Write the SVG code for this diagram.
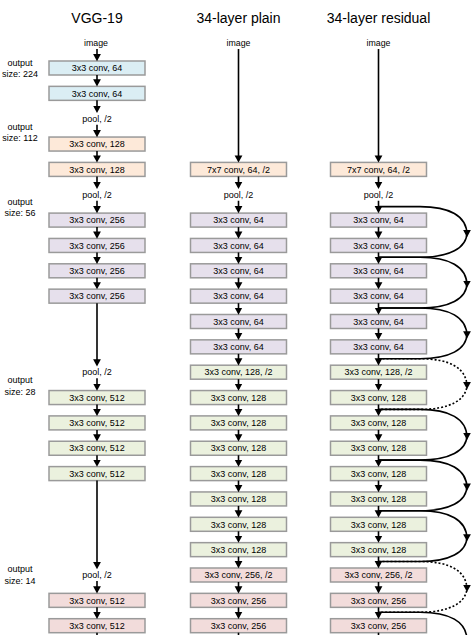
<svg xmlns="http://www.w3.org/2000/svg" width="476" height="635" viewBox="0 0 476 635">
<style>
.bx{stroke:#9a9a9a;stroke-width:1.5}
.bl{fill:#dbeef4}.or{fill:#fde9d9}.lv{fill:#e6e0ec}.gr{fill:#ebf1de}.pk{fill:#f2dcdb}
text{font-family:"Liberation Sans",Arial,sans-serif;fill:#000}
.t{font-size:9px;text-anchor:middle}
.im{font-size:8.8px;text-anchor:middle}
.ti{font-size:14px;text-anchor:middle}
.c{stroke:#000;stroke-width:1.6;fill:none}
.d{stroke-dasharray:2 2}
</style>
<defs>
<marker id="ah" markerUnits="userSpaceOnUse" markerWidth="9" markerHeight="9" viewBox="0 0 9 9" refX="5" refY="4.5" orient="auto"><path d="M0,0.6 L7.2,4.5 L0,8.4 z" fill="#000"/></marker>
</defs>
<g id="titles">
<text class="ti" x="97" y="23">VGG-19</text>
<text class="ti" x="238.5" y="23">34-layer plain</text>
<text class="ti" x="378.5" y="23">34-layer residual</text>
</g>
<g id="output-sizes">
<text class="t" x="20" y="65.5">output</text><text class="t" x="20" y="77">size: 224</text>
<text class="t" x="20" y="129.7">output</text><text class="t" x="20" y="141">size: 112</text>
<text class="t" x="20" y="204.7">output</text><text class="t" x="20" y="215.5">size: 56</text>
<text class="t" x="20" y="383">output</text><text class="t" x="20" y="395">size: 28</text>
<text class="t" x="20" y="572">output</text><text class="t" x="20" y="583.5">size: 14</text>
</g>
<!-- VGG column -->
<g id="vgg-image"><text class="im" x="96" y="45.5">image</text></g>
<g id="vgg-r0"><rect class="bx bl" x="49" y="61" width="96" height="14"/><text class="t" x="97" y="71.2">3x3 conv, 64</text></g>
<g id="vgg-r1"><rect class="bx bl" x="49" y="86.35" width="96" height="14"/><text class="t" x="97" y="96.55">3x3 conv, 64</text></g>
<g id="vgg-pool1"><text class="t" x="97" y="121.9">pool, /2</text></g>
<g id="vgg-r3"><rect class="bx or" x="49" y="137.05" width="96" height="14"/><text class="t" x="97" y="147.25">3x3 conv, 128</text></g>
<g id="vgg-r4"><rect class="bx or" x="49" y="162.4" width="96" height="14"/><text class="t" x="97" y="172.6">3x3 conv, 128</text></g>
<g id="vgg-pool2"><text class="t" x="97" y="197.95">pool, /2</text></g>
<g id="vgg-r6"><rect class="bx lv" x="49" y="213.1" width="96" height="14"/><text class="t" x="97" y="223.3">3x3 conv, 256</text></g>
<g id="vgg-r7"><rect class="bx lv" x="49" y="238.45" width="96" height="14"/><text class="t" x="97" y="248.65">3x3 conv, 256</text></g>
<g id="vgg-r8"><rect class="bx lv" x="49" y="263.8" width="96" height="14"/><text class="t" x="97" y="274">3x3 conv, 256</text></g>
<g id="vgg-r9"><rect class="bx lv" x="49" y="289.15" width="96" height="14"/><text class="t" x="97" y="299.35">3x3 conv, 256</text></g>
<g id="vgg-pool3"><text class="t" x="97" y="375.4">pool, /2</text></g>
<g id="vgg-r13"><rect class="bx gr" x="49" y="390.55" width="96" height="14"/><text class="t" x="97" y="400.75">3x3 conv, 512</text></g>
<g id="vgg-r14"><rect class="bx gr" x="49" y="415.9" width="96" height="14"/><text class="t" x="97" y="426.1">3x3 conv, 512</text></g>
<g id="vgg-r15"><rect class="bx gr" x="49" y="441.25" width="96" height="14"/><text class="t" x="97" y="451.45">3x3 conv, 512</text></g>
<g id="vgg-r16"><rect class="bx gr" x="49" y="466.6" width="96" height="14"/><text class="t" x="97" y="476.8">3x3 conv, 512</text></g>
<g id="vgg-pool4"><text class="t" x="97" y="578.2">pool, /2</text></g>
<g id="vgg-r21"><rect class="bx pk" x="49" y="593.35" width="96" height="14"/><text class="t" x="97" y="603.55">3x3 conv, 512</text></g>
<g id="vgg-r22"><rect class="bx pk" x="49" y="618.7" width="96" height="14"/><text class="t" x="97" y="628.9">3x3 conv, 512</text></g>
<!-- Plain column -->
<g id="plain-image"><text class="im" x="238.5" y="45.5">image</text></g>
<g id="plain-r4"><rect class="bx or" x="190.5" y="162.4" width="96" height="14"/><text class="t" x="238.5" y="172.6">7x7 conv, 64, /2</text></g>
<g id="plain-pool"><text class="t" x="238.5" y="197.95">pool, /2</text></g>
<g id="plain-r6"><rect class="bx lv" x="190.5" y="213.1" width="96" height="14"/><text class="t" x="238.5" y="223.3">3x3 conv, 64</text></g>
<g id="plain-r7"><rect class="bx lv" x="190.5" y="238.45" width="96" height="14"/><text class="t" x="238.5" y="248.65">3x3 conv, 64</text></g>
<g id="plain-r8"><rect class="bx lv" x="190.5" y="263.8" width="96" height="14"/><text class="t" x="238.5" y="274">3x3 conv, 64</text></g>
<g id="plain-r9"><rect class="bx lv" x="190.5" y="289.15" width="96" height="14"/><text class="t" x="238.5" y="299.35">3x3 conv, 64</text></g>
<g id="plain-r10"><rect class="bx lv" x="190.5" y="314.5" width="96" height="14"/><text class="t" x="238.5" y="324.7">3x3 conv, 64</text></g>
<g id="plain-r11"><rect class="bx lv" x="190.5" y="339.85" width="96" height="14"/><text class="t" x="238.5" y="350.05">3x3 conv, 64</text></g>
<g id="plain-r12"><rect class="bx gr" x="190.5" y="365.2" width="96" height="14"/><text class="t" x="238.5" y="375.4">3x3 conv, 128, /2</text></g>
<g id="plain-r13"><rect class="bx gr" x="190.5" y="390.55" width="96" height="14"/><text class="t" x="238.5" y="400.75">3x3 conv, 128</text></g>
<g id="plain-r14"><rect class="bx gr" x="190.5" y="415.9" width="96" height="14"/><text class="t" x="238.5" y="426.1">3x3 conv, 128</text></g>
<g id="plain-r15"><rect class="bx gr" x="190.5" y="441.25" width="96" height="14"/><text class="t" x="238.5" y="451.45">3x3 conv, 128</text></g>
<g id="plain-r16"><rect class="bx gr" x="190.5" y="466.6" width="96" height="14"/><text class="t" x="238.5" y="476.8">3x3 conv, 128</text></g>
<g id="plain-r17"><rect class="bx gr" x="190.5" y="491.95" width="96" height="14"/><text class="t" x="238.5" y="502.15">3x3 conv, 128</text></g>
<g id="plain-r18"><rect class="bx gr" x="190.5" y="517.3" width="96" height="14"/><text class="t" x="238.5" y="527.5">3x3 conv, 128</text></g>
<g id="plain-r19"><rect class="bx gr" x="190.5" y="542.65" width="96" height="14"/><text class="t" x="238.5" y="552.85">3x3 conv, 128</text></g>
<g id="plain-r20"><rect class="bx pk" x="190.5" y="568" width="96" height="14"/><text class="t" x="238.5" y="578.2">3x3 conv, 256, /2</text></g>
<g id="plain-r21"><rect class="bx pk" x="190.5" y="593.35" width="96" height="14"/><text class="t" x="238.5" y="603.55">3x3 conv, 256</text></g>
<g id="plain-r22"><rect class="bx pk" x="190.5" y="618.7" width="96" height="14"/><text class="t" x="238.5" y="628.9">3x3 conv, 256</text></g>
<!-- Residual column -->
<g id="res-image"><text class="im" x="378.5" y="45.5">image</text></g>
<g id="res-r4"><rect class="bx or" x="330.5" y="162.4" width="96" height="14"/><text class="t" x="378.5" y="172.6">7x7 conv, 64, /2</text></g>
<g id="res-pool"><text class="t" x="378.5" y="197.95">pool, /2</text></g>
<g id="res-r6"><rect class="bx lv" x="330.5" y="213.1" width="96" height="14"/><text class="t" x="378.5" y="223.3">3x3 conv, 64</text></g>
<g id="res-r7"><rect class="bx lv" x="330.5" y="238.45" width="96" height="14"/><text class="t" x="378.5" y="248.65">3x3 conv, 64</text></g>
<g id="res-r8"><rect class="bx lv" x="330.5" y="263.8" width="96" height="14"/><text class="t" x="378.5" y="274">3x3 conv, 64</text></g>
<g id="res-r9"><rect class="bx lv" x="330.5" y="289.15" width="96" height="14"/><text class="t" x="378.5" y="299.35">3x3 conv, 64</text></g>
<g id="res-r10"><rect class="bx lv" x="330.5" y="314.5" width="96" height="14"/><text class="t" x="378.5" y="324.7">3x3 conv, 64</text></g>
<g id="res-r11"><rect class="bx lv" x="330.5" y="339.85" width="96" height="14"/><text class="t" x="378.5" y="350.05">3x3 conv, 64</text></g>
<g id="res-r12"><rect class="bx gr" x="330.5" y="365.2" width="96" height="14"/><text class="t" x="378.5" y="375.4">3x3 conv, 128, /2</text></g>
<g id="res-r13"><rect class="bx gr" x="330.5" y="390.55" width="96" height="14"/><text class="t" x="378.5" y="400.75">3x3 conv, 128</text></g>
<g id="res-r14"><rect class="bx gr" x="330.5" y="415.9" width="96" height="14"/><text class="t" x="378.5" y="426.1">3x3 conv, 128</text></g>
<g id="res-r15"><rect class="bx gr" x="330.5" y="441.25" width="96" height="14"/><text class="t" x="378.5" y="451.45">3x3 conv, 128</text></g>
<g id="res-r16"><rect class="bx gr" x="330.5" y="466.6" width="96" height="14"/><text class="t" x="378.5" y="476.8">3x3 conv, 128</text></g>
<g id="res-r17"><rect class="bx gr" x="330.5" y="491.95" width="96" height="14"/><text class="t" x="378.5" y="502.15">3x3 conv, 128</text></g>
<g id="res-r18"><rect class="bx gr" x="330.5" y="517.3" width="96" height="14"/><text class="t" x="378.5" y="527.5">3x3 conv, 128</text></g>
<g id="res-r19"><rect class="bx gr" x="330.5" y="542.65" width="96" height="14"/><text class="t" x="378.5" y="552.85">3x3 conv, 128</text></g>
<g id="res-r20"><rect class="bx pk" x="330.5" y="568" width="96" height="14"/><text class="t" x="378.5" y="578.2">3x3 conv, 256, /2</text></g>
<g id="res-r21"><rect class="bx pk" x="330.5" y="593.35" width="96" height="14"/><text class="t" x="378.5" y="603.55">3x3 conv, 256</text></g>
<g id="res-r22"><rect class="bx pk" x="330.5" y="618.7" width="96" height="14"/><text class="t" x="378.5" y="628.9">3x3 conv, 256</text></g>
<!-- Connectors -->
<g id="connectors" class="c">
<g id="vgg-arrows" marker-end="url(#ah)">
<path d="M97,49V59"/><path d="M97,75V84.35"/><path d="M97,100.35V110.7"/><path d="M97,124.7V135.05"/>
<path d="M97,151.05V160.4"/><path d="M97,176.4V186.75"/><path d="M97,200.75V211.1"/><path d="M97,227.1V236.45"/>
<path d="M97,252.45V261.8"/><path d="M97,277.8V287.15"/><path d="M97,303.15V364.2"/><path d="M97,378.2V388.55"/>
<path d="M97,404.55V413.9"/><path d="M97,429.9V439.25"/><path d="M97,455.25V464.6"/><path d="M97,480.6V567"/>
<path d="M97,581V591.35"/><path d="M97,607.35V616.7"/>
</g>
<path d="M97,632.7V640"/>
<g id="plain-arrows" marker-end="url(#ah)">
<path d="M238.5,49V160.4"/><path d="M238.5,176.4V186.75"/><path d="M238.5,200.75V211.1"/>
<path d="M238.5,227.1V236.45"/><path d="M238.5,252.45V261.8"/><path d="M238.5,277.8V287.15"/><path d="M238.5,303.15V312.5"/>
<path d="M238.5,328.5V337.85"/><path d="M238.5,353.85V363.2"/><path d="M238.5,379.2V388.55"/><path d="M238.5,404.55V413.9"/>
<path d="M238.5,429.9V439.25"/><path d="M238.5,455.25V464.6"/><path d="M238.5,480.6V489.95"/><path d="M238.5,505.95V515.3"/>
<path d="M238.5,531.3V540.65"/><path d="M238.5,556.65V566"/><path d="M238.5,582V591.35"/><path d="M238.5,607.35V616.7"/>
</g>
<path d="M238.5,632.7V640"/>
<g id="res-arrows" marker-end="url(#ah)">
<path d="M378.5,49V160.4"/><path d="M378.5,176.4V186.75"/><path d="M378.5,200.75V211.1"/>
<path d="M378.5,227.1V236.45"/><path d="M378.5,252.45V261.8"/><path d="M378.5,277.8V287.15"/><path d="M378.5,303.15V312.5"/>
<path d="M378.5,328.5V337.85"/><path d="M378.5,353.85V363.2"/><path d="M378.5,379.2V388.55"/><path d="M378.5,404.55V413.9"/>
<path d="M378.5,429.9V439.25"/><path d="M378.5,455.25V464.6"/><path d="M378.5,480.6V489.95"/><path d="M378.5,505.95V515.3"/>
<path d="M378.5,531.3V540.65"/><path d="M378.5,556.65V566"/><path d="M378.5,582V591.35"/><path d="M378.5,607.35V616.7"/>
</g>
<path d="M378.5,632.7V640"/>
<g id="shortcuts">
<path marker-end="url(#ah)" d="M378.5,206.6H420C449,206.6 467,215.6 467,234.95"/><path d="M467,231.95C467,248.3 449,257.3 420,257.3H378.5"/>
<path marker-end="url(#ah)" d="M378.5,257.3H420C449,257.3 467,266.3 467,285.65"/><path d="M467,282.65C467,299 449,308 420,308H378.5"/>
<path marker-end="url(#ah)" d="M378.5,308H420C449,308 467,317 467,336.35"/><path d="M467,333.35C467,349.7 449,358.7 420,358.7H378.5"/>
<path class="d" marker-end="url(#ah)" d="M378.5,358.7H420C449,358.7 467,367.7 467,387.05"/><path class="d" d="M467,384.05C467,400.4 449,409.4 420,409.4H378.5"/>
<path marker-end="url(#ah)" d="M378.5,409.4H420C449,409.4 467,418.4 467,437.75"/><path d="M467,434.75C467,451.1 449,460.1 420,460.1H378.5"/>
<path marker-end="url(#ah)" d="M378.5,460.1H420C449,460.1 467,469.1 467,488.45"/><path d="M467,485.45C467,501.8 449,510.8 420,510.8H378.5"/>
<path marker-end="url(#ah)" d="M378.5,510.8H420C449,510.8 467,519.8 467,539.15"/><path d="M467,536.15C467,552.5 449,561.5 420,561.5H378.5"/>
<path class="d" marker-end="url(#ah)" d="M378.5,561.5H420C449,561.5 467,570.5 467,589.85"/><path class="d" d="M467,586.85C467,603.2 449,612.2 420,612.2H378.5"/>
<path marker-end="url(#ah)" d="M378.5,612.2H420C449,612.2 467,621.2 467,640.55"/>
</g>
</g>
</svg>
